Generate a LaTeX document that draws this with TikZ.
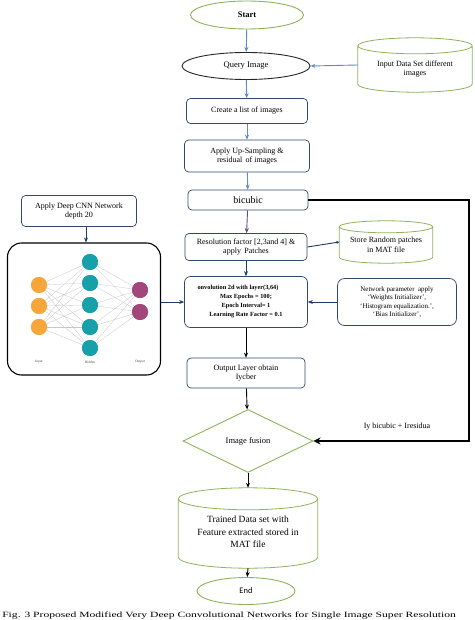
\documentclass[tikz,border=0pt]{standalone}
\usepackage{fontspec}
\setmainfont{Liberation Serif}
\newfontfamily\calib{Carlito}
\usetikzlibrary{shapes.geometric,arrows.meta,calc}
\definecolor{boxc}{HTML}{33476B}
\definecolor{grn}{HTML}{8FB35A}
\definecolor{bluar}{HTML}{5B8CC8}
\definecolor{navy}{HTML}{1F3864}
\definecolor{purp}{HTML}{5E4690}
\definecolor{orng}{HTML}{F7A73A}
\definecolor{teal}{HTML}{17A0AA}
\definecolor{plum}{HTML}{A3467C}
\newcommand\mycyl[2]{%
  \fill[white] let \p1=(#1.north west), \p2=(#1.south east) in
    (\x1,\y1-#2) -- (\x1,\y2+#2) arc[start angle=180,end angle=360,x radius={(\x2-\x1)/2},y radius=#2]
    -- (\x2,\y1-#2) arc[start angle=0,end angle=180,x radius={(\x2-\x1)/2},y radius=#2] -- cycle;
  \draw[grn,line width=0.8pt] let \p1=(#1.north west), \p2=(#1.south east) in
    (\x1,\y1-#2) -- (\x1,\y2+#2) arc[start angle=180,end angle=360,x radius={(\x2-\x1)/2},y radius=#2]
    -- (\x2,\y1-#2) arc[start angle=0,end angle=180,x radius={(\x2-\x1)/2},y radius=#2] -- cycle
    (\x1,\y1-#2) arc[start angle=180,end angle=360,x radius={(\x2-\x1)/2},y radius=#2];
}
\begin{document}
\begin{tikzpicture}[x=1pt,y=1pt,
  box/.style={draw=boxc, rounded corners=4pt, line width=0.7pt, fill=white, inner sep=1pt,
    align=center, font=\fontsize{8}{9.5}\selectfont},
  oval/.style={ellipse, draw=grn, line width=0.9pt, fill=white, inner sep=0pt, font=\fontsize{8.5}{10}\selectfont},
  cylnode/.style={inner sep=0pt, align=center, font=\fontsize{8}{9.5}\selectfont},
  arr/.style={-{Stealth[length=5pt,width=4pt]}, line width=0.9pt},
  neuron/.style={circle, inner sep=0pt, minimum size=16pt},
  syn/.style={draw=black!22, line width=0.3pt},
  nnlab/.style={font=\fontsize{3.5}{4}\selectfont, text=black!70}
]
\useasboundingbox (0,0) rectangle (474,-620);

% nodes
\node[oval, minimum width=113pt, minimum height=28pt, font=\bfseries\fontsize{8.5}{10}\selectfont] (start) at (247,-15) {Start};
\node[oval, draw=black!85, minimum width=128pt, minimum height=27pt] (query) at (246,-66) {Query Image};
\node[cylnode, minimum width=114pt, minimum height=54pt] (input) at (415,-65) {};
\mycyl{input}{8pt}
\node[cylnode] (inputt) at (415,-69) {Input Data Set different\\images};

\node[box, minimum width=121pt, minimum height=25pt] (list) at (247,-111) {Create a list of images};
\node[box, minimum width=125pt, minimum height=32pt] (upsam) at (247,-156) {Apply Up-Sampling \&\\residual\, of images};
\node[box, minimum width=120pt, minimum height=20pt, font=\fontsize{10}{12}\selectfont] (bic) at (248,-200) {bicubic};

\node[box, minimum width=122pt, minimum height=27pt] (res) at (246,-247) {Resolution factor [2,3and 4] \&\\apply\, Patches};
\node[cylnode, minimum width=93pt, minimum height=42pt] (store) at (386,-242) {};
\mycyl{store}{6pt}
\node[cylnode] (storet) at (386,-245) {Store Random patches\\in MAT file};

\node[box, rounded corners=6pt, minimum width=123pt, minimum height=51pt,
  font=\bfseries\fontsize{6.3}{9}\selectfont, align=center] (conv) at (246,-302)
  {\hspace*{-8pt}onvolution 2d with layer(3,64)\hspace*{8pt}\\Max Epochs = 100;\\Epoch Interval= 1\\Learning Rate Factor = 0.1};
\node[box, rounded corners=7pt, minimum width=119pt, minimum height=47pt, font=\fontsize{7}{8.5}\selectfont] (netp) at (397,-302)
  {Network parameter\ \ apply\\`Weights Initializer',\\`Histogram equalization.',\\`Bias Initializer',};

\node[box, minimum width=115pt, minimum height=31pt] (deep) at (79,-211) {Apply Deep CNN Network\\depth 20};
\node[draw=black, line width=1.1pt, rounded corners=14pt, minimum width=153pt, minimum height=132pt, fill=white] (nn) at (84,-309) {};

% neurons
\foreach \i/\y in {1/-285,2/-306,3/-327}
  \node[neuron, fill=orng] (in\i) at (39,\y) {};
\foreach \i/\y in {1/-262,2/-283,3/-305,4/-327,5/-348}
  \node[neuron, fill=teal] (hid\i) at (90,\y) {};
\foreach \i/\y in {1/-290,2/-312}
  \node[neuron, fill=plum] (out\i) at (140,\y) {};
\foreach \i in {1,2,3} \foreach \j in {1,...,5} \draw[syn] (in\i) -- (hid\j);
\foreach \j in {1,...,5} \foreach \k in {1,2} \draw[syn] (hid\j) -- (out\k);
\foreach \i in {1,2,3} \fill[orng] (in\i) circle (8pt);
\foreach \i in {1,...,5} \fill[teal] (hid\i) circle (8pt);
\foreach \i in {1,2} \fill[plum] (out\i) circle (8pt);
\node[nnlab] (lin) at (39,-362) {Input};
\node[nnlab] (lhid) at (90,-362) {Hidden};
\node[nnlab] (lout) at (140,-362) {Output};

\node[box, minimum width=118pt, minimum height=30pt] (outl) at (246,-373) {Output Layer obtain\\Iycber};
\node[diamond, draw=grn, line width=0.9pt, fill=white, minimum width=130pt, minimum height=63pt, inner sep=0pt,
  font=\fontsize{8.5}{10}\selectfont] (fus) at (248,-441) {Image fusion};
\node[cylnode, minimum width=139pt, minimum height=80pt] (train) at (248,-528) {};
\mycyl{train}{11pt}
\node[cylnode, font=\fontsize{9.5}{12.5}\selectfont] (traint) at (248,-532) {Trained Data set with\\Feature extracted stored in\\MAT file};
\node[oval, minimum width=98pt, minimum height=27pt, font=\calib\fontsize{8.5}{10}\selectfont] (end) at (246,-591) {End};

% connectors
\draw[arr, bluar] (start) -- (query);
\draw[arr, bluar] (input.west) -- (query.east);
\draw[arr, bluar] (query) -- (list);
\draw[arr, bluar] (list) -- (upsam);
\draw[arr, bluar] (upsam) -- (bic);
\draw[arr, purp] (bic) -- (res);
\draw[arr, navy, -{Stealth[length=3pt,width=3pt]}] (res.east) -- (store.west);
\draw[arr, navy] (res) -- (conv);
\draw[arr, navy] (netp.west) -- (conv.east);
\draw[arr, navy] (deep.south -| 86,0) -- (nn.north -| 86,0);
\draw[arr, navy] (nn.east |- conv.west) -- (conv.west);
\draw[arr, black] (conv) -- (outl);
\draw[arr, black] (outl) -- (fus);
\draw[arr, black] (fus) -- (train.north);
\draw[arr, black] (train.south) -- (end);
\coordinate (rt) at (469,-200);
\draw[line width=2.6pt, -{Stealth[length=7pt,width=7pt]}] (bic.east) -- (bic.east -| rt) |- (fus.east);
\node[font=\fontsize{8}{9.5}\selectfont] (fuslab) at (397,-427) {Iy bicubic + Iresidua};

% caption
\node[anchor=base west, inner sep=0pt, xscale=1.45, font=\fontsize{8}{9}\selectfont] (cap) at (2,-617.5)
  {Fig. 3 Proposed Modified Very Deep Convolutional Networks for Single Image Super Resolution};
\end{tikzpicture}
\end{document}
